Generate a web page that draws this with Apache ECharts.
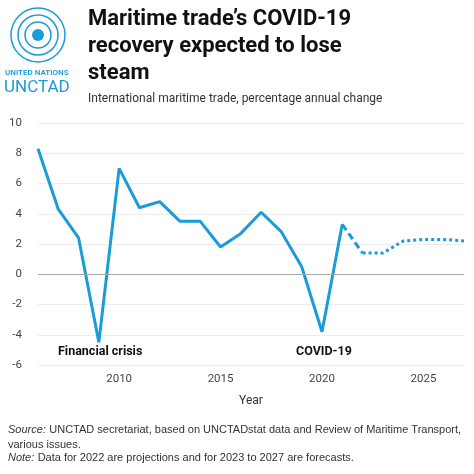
<!DOCTYPE html>
<html>
<head>
<meta charset="utf-8">
<script src="https://cdn.jsdelivr.net/npm/echarts@6/dist/echarts.min.js"></script>
<style>
  html, body { margin: 0; padding: 0; background: #fff; }
  #chart { width: 474px; height: 474px; }
</style>
</head>
<body>
<div id="chart"></div>
<script>
// values
const years = [2006, 2007, 2008, 2009, 2010, 2011, 2012, 2013, 2014, 2015, 2016, 2017, 2018, 2019, 2020, 2021, 2022, 2023, 2024, 2025, 2026, 2027]
const actual = [8.3, 4.3, 2.4, -4.5, 7.0, 4.4, 4.8, 3.5, 3.5, 1.8, 2.7, 4.1, 2.8, 0.5, -3.8, 3.3]
const projection = [3.3, 1.4]          // 2021 -> 2022
const forecast = [1.4, 1.4, 2.2, 2.3, 2.3, 2.2] // 2022 -> 2027
const yTicks = [-6, -4, -2, 0, 2, 4, 6, 8, 10]

const blue = '#1a9cd8'
const font = 'Roboto'

const pairs = (xs, vs) => vs.map((v, i) => [xs[i], v])

const chart = echarts.init(document.getElementById('chart'))
chart.setOption({
    animation: false,
    textStyle: { fontFamily: font },
    grid: { left: 38, right: 10, top: 123, bottom: 109 },
    xAxis: {
        type: 'value', min: 2006, max: 2027, interval: 5,
        name: 'Year', nameLocation: 'middle', nameGap: 30,
        nameTextStyle: { fontSize: 12, color: '#333' },
        axisLine: { show: false }, axisTick: { show: false },
        splitLine: { show: false },
        axisLabel: {
            color: '#444', fontSize: 11.5,
            customValues: [2010, 2015, 2020, 2025],
            formatter: v => String(v)
        }
    },
    yAxis: {
        type: 'value', min: yTicks[0], max: yTicks[yTicks.length - 1], interval: 2,
        axisLine: { show: false }, axisTick: { show: false },
        axisLabel: { color: '#444', fontSize: 11.5, margin: 16 },
        splitLine: { lineStyle: { color: '#ececec' } }
    },
    series: [
        {
            type: 'line', data: pairs(years, actual), symbol: 'none',
            lineStyle: { color: blue, width: 3 },
            markLine: {
                silent: true, symbol: 'none', label: { show: false },
                lineStyle: { color: '#aaa', width: 1, type: 'solid' },
                data: [{ yAxis: 0 }]
            }
        },
        {
            type: 'line', data: pairs(years.slice(15), projection), symbol: 'none',
            lineStyle: { color: blue, width: 3, type: [7, 4] }
        },
        {
            type: 'line', data: pairs(years.slice(16), forecast), symbol: 'none',
            lineStyle: { color: blue, width: 3, type: [3, 3] }
        }
    ],
    graphic: [
        // emblem
        { type: 'circle', shape: { cx: 38, cy: 35, r: 27 }, style: { fill: 'none', stroke: blue, lineWidth: 1.5 } },
        { type: 'circle', shape: { cx: 38, cy: 35, r: 20 }, style: { fill: 'none', stroke: blue, lineWidth: 1.5 } },
        { type: 'circle', shape: { cx: 38, cy: 35, r: 13 }, style: { fill: 'none', stroke: blue, lineWidth: 1.5 } },
        { type: 'circle', shape: { cx: 38, cy: 35, r: 6 }, style: { fill: blue } },
        { type: 'text', left: 5, top: 69, style: { text: 'UNITED NATIONS', fill: blue, font: '600 8px Roboto' } },
        { type: 'text', left: 4, top: 79, style: { text: 'UNCTAD', fill: blue, font: '17px Roboto', letterSpacing: 3 } },
        // titles
        { type: 'text', left: 88, top: 6, style: { text: 'Maritime trade’s COVID-19\nrecovery expected to lose\nsteam', fill: '#111', font: 'bold 22px Roboto', lineHeight: 27 } },
        { type: 'text', left: 88, top: 93, style: { text: 'International maritime trade, percentage annual change', fill: '#333', font: '12px Roboto' } },
        // annotations
        { type: 'text', left: 58, top: 345, style: { text: 'Financial crisis', fill: '#111', font: 'bold 12.5px Roboto' } },
        { type: 'text', left: 296, top: 345, style: { text: 'COVID-19', fill: '#111', font: 'bold 12.5px Roboto' } },
        // footer
        { type: 'text', left: 8, top: 422, style: {
            rich: { i: { fontStyle: 'italic', fontSize: 11, fill: '#333' }, n: { fontSize: 11, fill: '#333' } },
            text: '{i|Source:} {n|UNCTAD secretariat, based on UNCTADstat data and Review of Maritime Transport,}\n{n|various issues.}',
            lineHeight: 15
        } },
        { type: 'text', left: 8, top: 452, style: {
            rich: { i: { fontStyle: 'italic', fontSize: 11, fill: '#333' }, n: { fontSize: 11, fill: '#333' } },
            text: '{i|Note:} {n|Data for 2022 are projections and for 2023 to 2027 are forecasts.}'
        } }
    ]
})
</script>
</body>
</html>
